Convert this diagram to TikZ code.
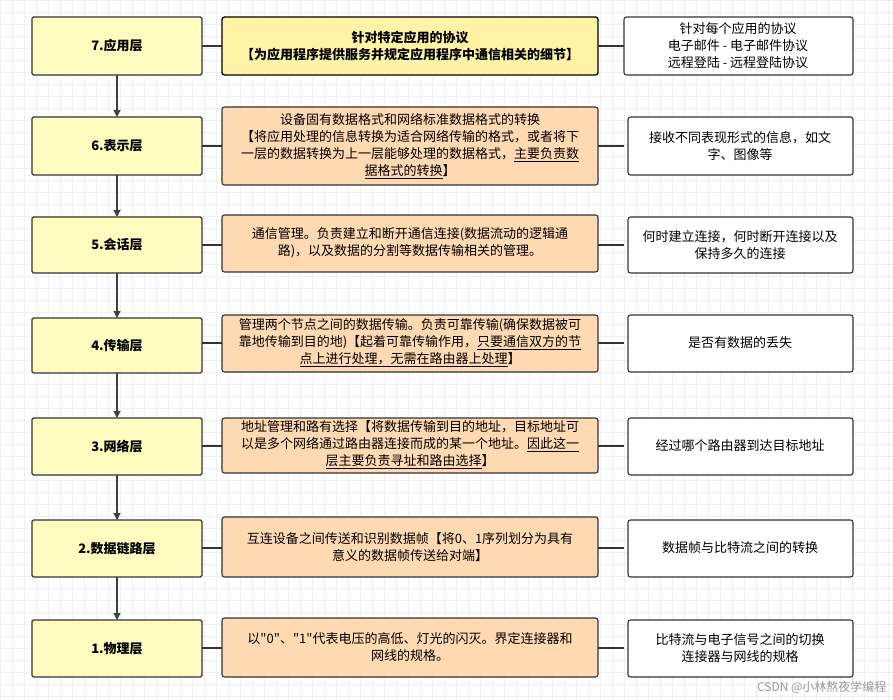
\documentclass[tikz,border=0pt]{standalone}
\usepackage{fontspec}
\newfontfamily\cjk{Noto Sans CJK SC}
\usetikzlibrary{arrows.meta}
\begin{document}
\begin{tikzpicture}[x=1pt,y=-1pt,
  font=\cjk\fontsize{13}{17}\selectfont,
  lbox/.style={draw=black!80,line width=1.1pt,fill=yellow!25!white,rounded corners=1.5pt},
  mbox/.style={draw=black!80,line width=1.1pt,fill=orange!30!white,rounded corners=2.5pt,align=center},
  rbox/.style={draw=black!80,line width=1.1pt,fill=white,rounded corners=2.5pt,align=center},
  link/.style={draw=black!80,line width=1.1pt},
  arr/.style={draw=black!75,line width=1.1pt,-{Triangle[length=7pt,width=7pt]}}]
\useasboundingbox (0,0) rectangle (893,700);
\fill[white] (0,0) rectangle (893,700);
\foreach \x in {0,12,...,893}{\draw[black!6,line width=0.4pt] (\x,0) -- (\x,700);}
\foreach \y in {0,12,...,700}{\draw[black!6,line width=0.4pt] (0,\y) -- (893,\y);}
% left
\foreach \n/\t/\a/\b in {7/7.应用层/17/75,6/6.表示层/117/175,5/5.会话层/217/273,4/4.传输层/318/373,3/3.网络层/418/475,2/2.数据链路层/520/577,1/1.物理层/620/677}{
  \path[lbox] (32,\a) rectangle (202,\b);
  \node[font=\cjk\bfseries\fontsize{13}{17}\selectfont] (L\n) at (117,{(\a+\b)/2}) {\t};
  \coordinate (Lt\n) at (117,\a); \coordinate (Lb\n) at (117,\b);
}
\foreach \u/\d in {7/6,6/5,5/4,4/3,3/2,2/1}{\draw[arr] (Lb\u) -- (Lt\d);}
% middle boxes
\path[draw=black,line width=1.3pt,fill=orange!28!yellow!35!white,rounded corners=2.5pt] (222,17) rectangle (598,75);
\node[align=center,font=\cjk\bfseries\fontsize{13}{17}\selectfont] (M7) at (410,46) {针对特定应用的协议\\【为应用程序提供服务并规定应用程序中通信相关的细节】};
\path[mbox] (222,107) rectangle (598,185);
\node[align=center] (M6) at (410,146) {设备固有数据格式和网络标准数据格式的转换\\【将应用处理的信息转换为适合网络传输的格式，或者将下\\一层的数据转换为上一层能够处理的数据格式，\underline{主要负责数}\\\underline{据格式的转换}】};
\path[mbox] (222,215) rectangle (598,272);
\node[align=center] (M5) at (410,243) {通信管理。负责建立和断开通信连接(数据流动的逻辑通\\路)，以及数据的分割等数据传输相关的管理。};
\path[mbox] (222,315) rectangle (598,372);
\node[align=center] (M4) at (410,343) {管理两个节点之间的数据传输。负责可靠传输(确保数据被可\\靠地传输到目的地)【起着可靠传输作用，\underline{只要通信双方的节}\\\underline{点上进行处理，无需在路由器上处理}】};
\path[mbox] (222,418) rectangle (598,473);
\node[align=center] (M3) at (410,445) {地址管理和路有选择【将数据传输到目的地址，目标地址可\\以是多个网络通过路由器连接而成的某一个地址。\underline{因此这一}\\\underline{层主要负责寻址和路由选择}】};
\path[mbox] (222,517) rectangle (598,577);
\node[align=center] (M2) at (410,547) {互连设备之间传送和识别数据帧【将0、1序列划分为具有\\意义的数据帧传送给对端】};
\path[mbox] (222,618) rectangle (598,677);
\node[align=center] (M1) at (410,647) {以"0"、"1"代表电压的高低、灯光的闪灭。界定连接器和\\网线的规格。};
% right
\path[rbox] (624,17) rectangle (853,75);
\node[align=center] (R7) at (738,46) {针对每个应用的协议\\电子邮件 - 电子邮件协议\\远程登陆 - 远程登陆协议};
\path[rbox] (628,117) rectangle (853,175);
\node[align=center] (R6) at (740,146) {接收不同表现形式的信息，如文\\字、图像等};
\path[rbox] (628,217) rectangle (853,273);
\node[align=center] (R5) at (740,245) {何时建立连接，何时断开连接以及\\保持多久的连接};
\path[rbox] (628,315) rectangle (853,372);
\node (R4) at (740,343) {是否有数据的丢失};
\path[rbox] (628,418) rectangle (853,475);
\node (R3) at (740,446) {经过哪个路由器到达目标地址};
\path[rbox] (628,520) rectangle (853,577);
\node (R2) at (740,548) {数据帧与比特流之间的转换};
\path[rbox] (628,620) rectangle (853,677);
\node[align=center] (R1) at (740,648) {比特流与电子信号之间的切换\\连接器与网线的规格};
% links
\foreach \y in {46,146,245,343,446,548,648}{
  \draw[link] (202,\y) -- (222,\y);
  \draw[link] (598,\y) -- (624,\y);
}
\node[font=\cjk\fontsize{12}{14}\selectfont,text=black!40,anchor=south east] (wm) at (890,697) {CSDN @小林熬夜学编程};
\end{tikzpicture}
\end{document}
